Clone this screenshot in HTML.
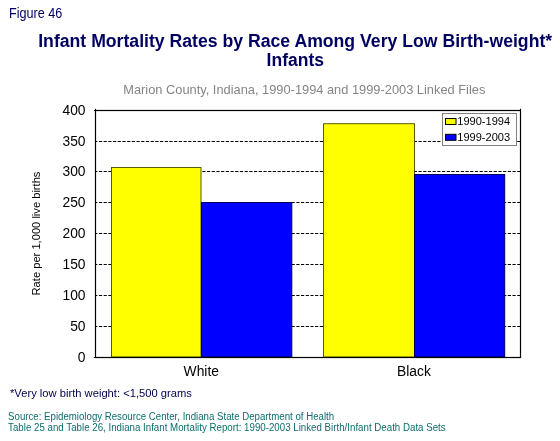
<!DOCTYPE html>
<html><head><meta charset="utf-8">
<style>
html,body{margin:0;padding:0;background:#fff;width:560px;height:441px;overflow:hidden}
svg{display:block;will-change:transform}
text{font-family:"Liberation Sans",sans-serif}
</style></head>
<body>
<svg width="560" height="441" viewBox="0 0 560 441" xmlns="http://www.w3.org/2000/svg">
<rect x="0" y="0" width="560" height="441" fill="#fff"/>
<!-- header -->
<text transform="translate(9,17.85) scale(1,1.1)" font-size="12.65" fill="#000060">Figure 46</text>
<text x="295.2" y="46.8" font-size="17.65" font-weight="bold" fill="#000060" text-anchor="middle">Infant Mortality Rates by Race Among Very Low Birth-weight*</text>
<text x="295.3" y="65.7" font-size="17.5" font-weight="bold" fill="#000060" text-anchor="middle">Infants</text>
<text x="304.3" y="93.7" font-size="12.84" fill="#858585" text-anchor="middle">Marion County, Indiana, 1990-1994 and 1999-2003 Linked Files</text>

<!-- gridlines -->
<g stroke="#000" stroke-width="1" stroke-dasharray="3.2 1.5" stroke-dashoffset="1.3">
<line x1="95.5" y1="141.5" x2="520" y2="141.5"/>
<line x1="95.5" y1="171.5" x2="520" y2="171.5"/>
<line x1="95.5" y1="202.5" x2="520" y2="202.5"/>
<line x1="95.5" y1="233.5" x2="520" y2="233.5"/>
<line x1="95.5" y1="264.5" x2="520" y2="264.5"/>
<line x1="95.5" y1="295.5" x2="520" y2="295.5"/>
<line x1="95.5" y1="326.5" x2="520" y2="326.5"/>
</g>

<!-- bars -->
<rect x="111.5" y="167.5" width="89.5" height="189.5" fill="#ffff00" stroke="#5a5a08" stroke-width="1"/>
<rect x="201.5" y="202.5" width="90.3" height="154.5" fill="#0000ff" stroke="#000060" stroke-width="1"/>
<rect x="323.5" y="123.7" width="91" height="233.3" fill="#ffff00" stroke="#5a5a08" stroke-width="1"/>
<rect x="414.5" y="174.5" width="90.2" height="182.5" fill="#0000ff" stroke="#000060" stroke-width="1"/>

<!-- plot border -->
<rect x="95.5" y="110.5" width="425" height="247" fill="none" stroke="#000" stroke-width="1.2"/>

<g stroke="#000" stroke-width="1.1">
<line x1="93.8" y1="357.5" x2="95" y2="357.5"/>
<line x1="94" y1="110.5" x2="95" y2="110.5"/>
<line x1="95.5" y1="108.8" x2="95.5" y2="110"/>
<line x1="520.5" y1="108.8" x2="520.5" y2="110"/>
</g>
<!-- y labels -->
<g font-size="13.8" fill="#000" text-anchor="end">
<text x="85.5" y="115">400</text>
<text x="85.5" y="145.9">350</text>
<text x="85.5" y="176.1">300</text>
<text x="85.5" y="207">250</text>
<text x="85.5" y="238">200</text>
<text x="85.5" y="269">150</text>
<text x="85.5" y="299.9">100</text>
<text x="85.5" y="330.8">50</text>
<text x="85.5" y="361.7">0</text>
</g>
<text transform="translate(40.2,233.5) rotate(-90)" font-size="11.15" fill="#000" text-anchor="middle">Rate per 1,000 live births</text>

<!-- x labels -->
<text x="201.3" y="375.5" font-size="13.85" fill="#000" text-anchor="middle">White</text>
<text x="414" y="375.5" font-size="13.85" fill="#000" text-anchor="middle">Black</text>

<!-- legend -->
<rect x="442.5" y="113.5" width="74" height="32" fill="#fff" stroke="#808080" stroke-width="1"/>
<rect x="445.5" y="118.5" width="10.5" height="6" fill="#ffff00" stroke="#000" stroke-width="1"/>
<rect x="445.5" y="134.3" width="10.5" height="6" fill="#0000ff" stroke="#000" stroke-width="1"/>
<text x="457.3" y="124.9" font-size="11.05" fill="#000">1990-1994</text>
<text x="457.3" y="140.6" font-size="11.05" fill="#000">1999-2003</text>

<!-- footnotes -->
<text x="10" y="396.9" font-size="11.2" fill="#00004e">*Very low birth weight: &lt;1,500 grams</text>
<text transform="translate(8.1,420.2) scale(1,1.1)" font-size="9.68" fill="#0e6c6e">Source: Epidemiology Resource Center, Indiana State Department of Health</text>
<text transform="translate(8.1,430.9) scale(1,1.1)" font-size="9.73" fill="#0e6c6e">Table 25 and Table 26, Indiana Infant Mortality Report: 1990-2003 Linked Birth/Infant Death Data Sets</text>
</svg>
</body></html>
